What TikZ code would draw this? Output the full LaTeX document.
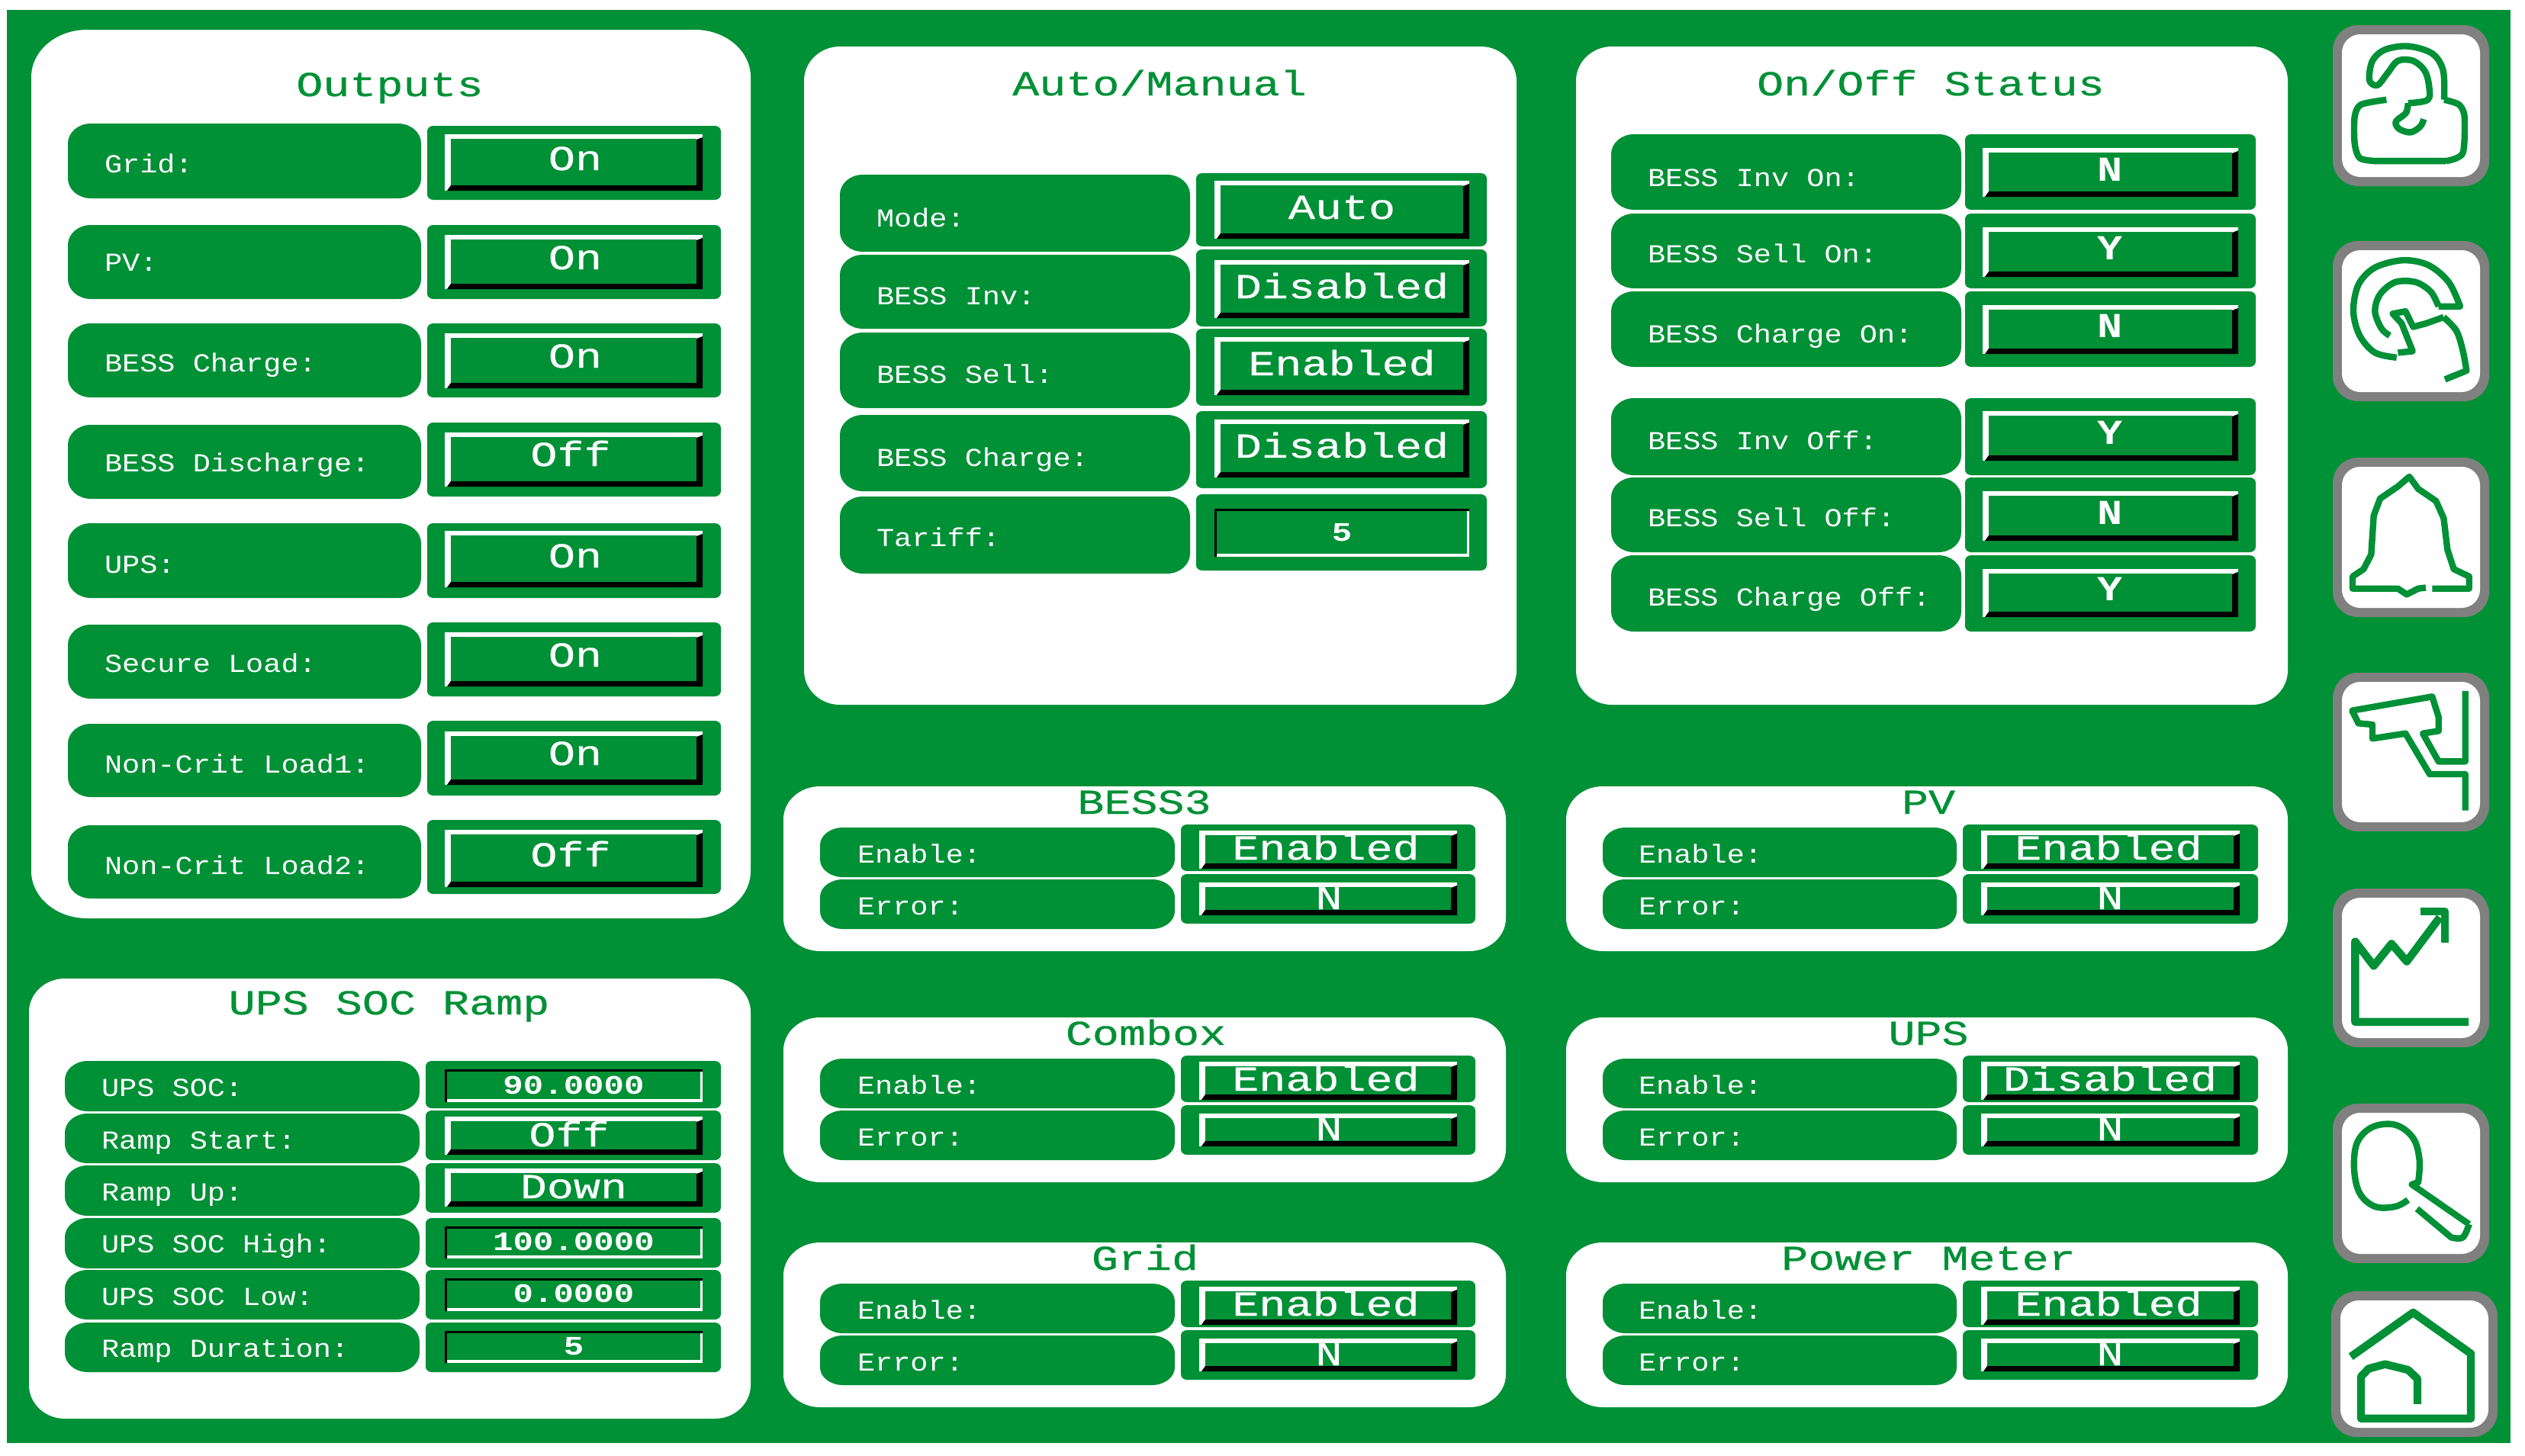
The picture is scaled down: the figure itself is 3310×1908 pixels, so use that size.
\documentclass[tikz,border=0pt]{standalone}
\usepackage{fontspec}
\newfontfamily\mono{Liberation Mono}
\newfontfamily\monoh[FakeBold=0.5]{Liberation Mono}
\definecolor{hmi}{HTML}{009036}
\definecolor{frame}{HTML}{808080}
\newcounter{nd}
% text classes
\newcommand\flab[1]{\scalebox{1.135}[1]{\mono\fontsize{17}{17}\selectfont #1}}
\newcommand\fbig[1]{\scalebox{1.27}[1]{\monoh\fontsize{23}{23}\selectfont #1}}
\newcommand\fnum[1]{\scalebox{1.26}[1]{\mono\bfseries\fontsize{17.5}{17.5}\selectfont #1}}
\newcommand\fyn[1]{\scalebox{1.2}[1]{\mono\bfseries\fontsize{23}{23}\selectfont #1}}
\tikzset{
  x=0.5pt,y=-0.5pt,
  txt/.style={inner sep=0pt,outer sep=0pt,anchor=base},
  labeltxt/.style={txt,anchor=base west,text=white},
  valuetxt/.style={txt,text=white},
  titletxt/.style={txt,text=hmi},
  icon/.style={draw=hmi,line width=4.2pt,line join=round,line cap=butt},
  thickicon/.style={icon,line width=5.2pt},
}
% rounded rectangle with elliptical corners: style, x1,y1,x2,y2,rx,ry
\newcommand\rr[7]{%
  \fill[#1] ({#2+#6},{#3}) -- ({#4-#6},{#3})
    .. controls ({#4-0.45*#6},{#3}) and ({#4},{#3+0.45*#7}) .. ({#4},{#3+#7})
    -- ({#4},{#5-#7})
    .. controls ({#4},{#5-0.45*#7}) and ({#4-0.45*#6},{#5}) .. ({#4-#6},{#5})
    -- ({#2+#6},{#5})
    .. controls ({#2+0.45*#6},{#5}) and ({#2},{#5-0.45*#7}) .. ({#2},{#5-#7})
    -- ({#2},{#3+#7})
    .. controls ({#2},{#3+0.45*#7}) and ({#2+0.45*#6},{#3}) .. ({#2+#6},{#3}) -- cycle;}
\newcommand\ttl[3]{\stepcounter{nd}\node[titletxt] (t\the\value{nd}) at (#1,{#2}) {\fbig{#3}};}
% label pill: y1,y2,baseline,text
\newcommand\lrow[4]{\rr{hmi}{\Pa}{#1}{\Pb}{#2}{\PRx}{\PRy}%
  \stepcounter{nd}\node[labeltxt] (l\the\value{nd}) at ({\Lx-2},{#3}) {\flab{#4}};}
% sunken value: y1,y2,iy1,iy2,baseline,text
\newcommand\vsunk[6]{\rr{hmi}{\Va}{#1}{\Vb}{#2}{8}{7}%
  \fill[white] (\Ia,{#3}) rectangle (\Ib,{#4});
  \fill[black] (\Ia,{#3}) -- (\Ib,{#3}) -- (\Ib,{#3+3}) -- ({\Ia+3},{#3+3}) -- ({\Ia+3},{#4}) -- (\Ia,{#4}) -- cycle;
  \fill[hmi] ({\Ia+3},{#3+3}) rectangle ({\Ib-3},{#4-4});
  \stepcounter{nd}\node[valuetxt] (v\the\value{nd}) at (\Cx,{#5}) {#6};}
% raised button: [cx] y1,y2,iy1,iy2,baseline,text
\newcommand\vbtnt[7][\Cx]{\rr{hmi}{\Va}{#2}{\Vb}{#3}{8}{7}%
  \fill[white] (\Ia,{#4}) rectangle (\Ib,{#5});
  \fill[black] (\Ib,{#4+4}) -- (\Ib,{#5}) -- ({\Ia+3},{#5}) -- ({\Ia+8},{#5-7}) -- ({\Ib-8},{#5-7}) -- ({\Ib-8},{#4+7}) -- cycle;
  \fill[hmi] ({\Ia+8},{#4+6}) rectangle ({\Ib-8},{#5-7});
  \stepcounter{nd}\node[valuetxt] (v\the\value{nd}) at (#1,{#6}) {#7};}
% small two-row panel: y offset, title, title cx, value cx, value text
\newcommand\duo[5]{%
  \rr{white}{\Ka}{1031+#1}{\Kb}{1247+#1}{48}{43}%
  \ttl{#3}{1067+#1}{#2}%
  \lrow{1085+#1}{1150+#1}{1131+#1}{Enable:}%
  \lrow{1153+#1}{1218+#1}{1199+#1}{Error:}%
  \vbtnt[#4]{1081+#1}{1142+#1}{1089+#1}{1139+#1}{1127+#1}{\fbig{#5}}%
  \vbtnt{1146+#1}{1211+#1}{1157+#1}{1200+#1}{1192+#1}{\fbig{N}}}
% icon frame
\newcommand\iconframe[4]{\rr{frame}{#1}{#2}{#3}{#4}{33}{33}%
  \rr{white}{#1+12}{#2+12}{#3-12}{#4-12}{24}{24}}
\begin{document}
\begin{tikzpicture}
\useasboundingbox (0,0) rectangle (3310,1908);
\fill[white] (0,0) rectangle (3310,1908);
\fill[hmi] (9,13) rectangle (3291,1892);
% ---------- Outputs
\rr{white}{41}{39}{984}{1204}{73}{62}
\ttl{511}{126}{Outputs}
\def\Pa{89}\def\Pb{552}\def\Lx{139}\def\Va{560}\def\Vb{945}\def\Ia{583}\def\Ib{921}\def\Cx{754}\def\PRx{30}\def\PRy{26}
\lrow{162}{260}{226}{Grid:}            \vbtnt{165}{262}{176}{250}{223}{\fbig{On}}
\lrow{295}{392}{355}{PV:}              \vbtnt{295}{392}{308}{379}{353}{\fbig{On}}
\lrow{424}{521}{487.5}{BESS Charge:}   \vbtnt{424}{521}{437}{509}{482}{\fbig{On}}
\lrow{557}{654}{618}{BESS Discharge:}  \vbtnt[748]{554}{651}{567}{638}{611}{\fbig{Off}}
\lrow{686}{784}{751}{UPS:}             \vbtnt{686}{784}{696}{770}{744}{\fbig{On}}
\lrow{819}{916}{881}{Secure Load:}     \vbtnt{816}{913}{829}{900}{874}{\fbig{On}}
\lrow{949}{1045}{1013}{Non-Crit Load1:}\vbtnt{945}{1043}{959}{1029}{1003}{\fbig{On}}
\lrow{1082}{1178}{1146}{Non-Crit Load2:}\vbtnt[748]{1075}{1172}{1088}{1163}{1136}{\fbig{Off}}
% ---------- UPS SOC Ramp
\rr{white}{38}{1283}{984}{1860}{47}{44}
\ttl{510}{1330}{UPS SOC Ramp}
\def\Pa{85}\def\Pb{550}\def\Lx{135}\def\Va{558}\def\Vb{945}\def\Ia{583}\def\Ib{921}\def\Cx{752}\def\PRx{30}\def\PRy{25}
\lrow{1391}{1457}{1437}{UPS SOC:}       \vsunk{1391}{1453}{1402}{1445}{1434}{\fnum{90.0000}}
\lrow{1460}{1525}{1506}{Ramp Start:}    \vbtnt[746]{1456}{1521}{1464}{1514}{1503}{\fbig{Off}}
\lrow{1528}{1594}{1574}{Ramp Up:}       \vbtnt{1525}{1590}{1532}{1582}{1571}{\fbig{Down}}
\lrow{1597}{1663}{1642}{UPS SOC High:}  \vsunk{1597}{1662}{1608}{1650}{1639}{\fnum{100.0000}}
\lrow{1665}{1730}{1711}{UPS SOC Low:}   \vsunk{1665}{1730}{1676}{1719}{1707}{\fnum{0.0000}}
\lrow{1734}{1799}{1779}{Ramp Duration:} \vsunk{1734}{1799}{1745}{1787}{1776}{\fnum{5}}
% ---------- Auto/Manual
\rr{white}{1054}{61}{1988}{924}{47}{45}
\ttl{1520}{125}{Auto/Manual}
\def\Pa{1101}\def\Pb{1560}\def\Lx{1151}\def\Va{1568}\def\Vb{1949}\def\Ia{1592}\def\Ib{1926}\def\Cx{1759}\def\PRx{30}\def\PRy{26}
\lrow{229}{330}{297}{Mode:}         \vbtnt{227}{323}{237}{313}{287}{\fbig{Auto}}
\lrow{334}{431}{399}{BESS Inv:}     \vbtnt{327}{428}{341}{417}{391}{\fbig{Disabled}}
\lrow{436}{535}{502}{BESS Sell:}    \vbtnt{431}{532}{442}{518}{492}{\fbig{Enabled}}
\lrow{544}{644}{611}{BESS Charge:}  \vbtnt{539}{640}{550}{626}{600}{\fbig{Disabled}}
\lrow{651}{752}{716}{Tariff:}       \vsunk{648}{748}{667}{730}{709}{\fnum{5}}
% ---------- On/Off Status
\rr{white}{2066}{61}{2999}{924}{47}{45}
\ttl{2531}{125}{On/Off Status}
\def\Pa{2112}\def\Pb{2571}\def\Lx{2162}\def\Va{2576}\def\Vb{2957}\def\Ia{2599}\def\Ib{2934}\def\Cx{2766}
\lrow{176}{275}{244}{BESS Inv On:}      \vbtnt{176}{275}{194}{258}{237}{\fyn{N}}
\lrow{280}{378}{344}{BESS Sell On:}     \vbtnt{280}{378}{298}{363}{340}{\fyn{Y}}
\lrow{382}{481}{449}{BESS Charge On:}   \vbtnt{382}{481}{400}{464}{442}{\fyn{N}}
\lrow{522}{623}{589}{BESS Inv Off:}     \vbtnt{522}{623}{539}{604}{582}{\fyn{Y}}
\lrow{626}{724}{690}{BESS Sell Off:}    \vbtnt{626}{724}{644}{709}{687}{\fyn{N}}
\lrow{728}{828}{794}{BESS Charge Off:}  \vbtnt{728}{828}{746}{809}{787}{\fyn{Y}}
% ---------- small panels, middle column
\def\Ka{1027}\def\Kb{1974}\def\Pa{1075}\def\Pb{1540}\def\Lx{1126}\def\Va{1548}\def\Vb{1934}\def\Ia{1572}\def\Ib{1910}\def\Cx{1742}\def\PRx{30}\def\PRy{23}
\duo{0}{BESS3}{1500}{1738}{Enabled}
\duo{303}{Combox}{1502}{1738}{Enabled}
\duo{598}{Grid}{1501}{1738}{Enabled}
% ---------- small panels, right column
\def\Ka{2053}\def\Kb{2999}\def\Pa{2101}\def\Pb{2565}\def\Lx{2150}\def\Va{2573}\def\Vb{2960}\def\Ia{2597}\def\Ib{2936}\def\Cx{2766}
\duo{0}{PV}{2528}{2764}{Enabled}
\duo{303}{UPS}{2528}{2766}{Disabled}
\duo{598}{Power Meter}{2528}{2764}{Enabled}
% ---------- icon buttons
\iconframe{3058}{33}{3263}{244}
\iconframe{3058}{316}{3263}{526}
\iconframe{3058}{600}{3263}{809}
\iconframe{3058}{882}{3263}{1090}
\iconframe{3058}{1165}{3263}{1373}
\iconframe{3058}{1447}{3263}{1656}
\iconframe{3056}{1693}{3274}{1884}
\begin{scope}[shift={(2980,0)},x=0.16667pt,y=-0.3189pt]
  % open padlock
  \draw[icon] plot[smooth,tension=.45] coordinates {(445,205) (345,215) (320,240) (320,295) (340,325) (400,331)} -- (680,331)
     plot[smooth,tension=.45] coordinates {(680,331) (745,315) (752,240) (730,215) (672,205)};
  \draw[icon] plot[smooth,tension=.55] coordinates {(672,205) (668,145) (625,110) (530,95) (440,102) (390,125) (378,165) (410,175) (450,150) (490,125) (550,125) (595,145) (612,175) (608,205) (530,212)};
  \draw[icon] plot[smooth,tension=.55] coordinates {(530,212) (522,232) (482,250) (495,265) (540,272) (578,260) (592,245)};
  % touch
  \draw[icon] plot[smooth,tension=.55] coordinates {(485,735) (400,725) (340,690) (315,640) (335,585) (400,550) (510,535) (610,545) (690,580) (735,630)} -- (650,630)
     plot[smooth,tension=.55] coordinates {(650,630) (620,600) (560,580) (480,580) (420,605) (400,640) (425,675) (458,690)};
  \draw[icon] (490,725) -- (548,722) -- (505,665) -- (470,645) -- (520,640) -- (550,672) -- (600,665) -- (670,652)
     plot[smooth,tension=.55] coordinates {(670,652) (720,680) (745,720) (760,762)} -- (675,780);
  % bell
  \draw[icon] (600,1208) -- (570,1210) -- (525,1222) -- (490,1210) -- (312,1210) -- (312,1185) -- (355,1170) -- (385,1140) -- (395,1060) -- (420,1025) -- (490,1000) -- (535,980) -- (570,1005) -- (640,1030) -- (670,1065) -- (685,1130) -- (710,1170) -- (770,1185) -- (770,1210) -- (625,1210);
\end{scope}
\begin{scope}[shift={(3050,880)},x=0.16667pt,y=-0.16667pt]
  % camera
  \draw[icon] (545,78) -- (545,355) -- (440,355) -- (378,245) -- (440,235) -- (440,180) -- (415,100) -- (100,155) -- (125,205) -- (180,210) -- (180,265) -- (310,245) -- (405,405) -- (545,405) -- (545,548);
\end{scope}
\begin{scope}[shift={(2980,1000)},x=0.16667pt,y=-0.2895pt]
  % trend chart
  \draw[thickicon] (768,587) -- (322,587) -- (322,405) -- (395,460) -- (465,410) -- (525,450) -- (655,350);
  \draw[thickicon] (578,337) -- (675,337) -- (675,407);
  % magnifier
  \draw[icon] plot[smooth,tension=.6] coordinates {(530,990) (480,1005) (400,1005) (340,975) (318,920) (330,860) (390,825) (480,820) (550,850) (575,900) (570,950)} -- (545,955) -- (770,1045)
     plot[smooth,tension=.6] coordinates {(770,1045) (745,1075) (700,1075)} -- (565,1010);
  % house
  \draw[thickicon] (305,1345) -- (550,1245) -- (777,1338) -- (777,1485) -- (345,1485) -- (345,1390) -- (375,1372) -- (440,1362) -- (530,1375) -- (567,1395) -- (567,1452);
\end{scope}
\end{tikzpicture}
\end{document}
